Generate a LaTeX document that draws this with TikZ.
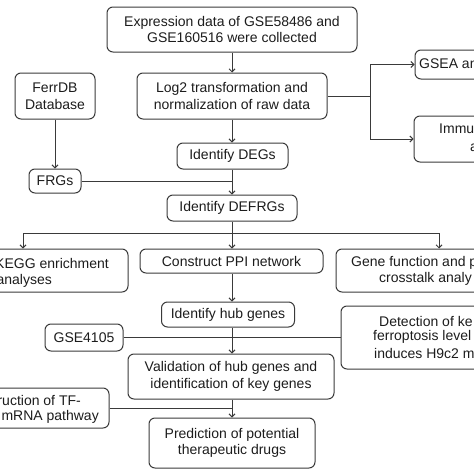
\documentclass[tikz,border=0pt]{standalone}
\usepackage{fontspec}
\setmainfont{Liberation Sans}
\usepackage{tikz}
\usetikzlibrary{arrows.meta,calc,positioning}
\definecolor{ln}{HTML}{3A3A3A}
\definecolor{tx}{HTML}{1C1C1C}
\begin{document}
\begin{tikzpicture}[x=1pt,y=-1pt,
  box/.style={draw=ln,line width=1pt,rounded corners=6pt,inner sep=0pt,align=center,text=tx},
  txt/.style={inner sep=0pt,text=tx,align=left},
  arr/.style={draw=ln,line width=1pt,-{Straight Barb[length=3pt,width=6pt]}},
  lin/.style={draw=ln,line width=1pt}]
\useasboundingbox (0,0) rectangle (474,474);
\clip (0,0) rectangle (474,474);
\fontsize{14}{16.5}\selectfont
% boxes
\node[box,minimum width=250,minimum height=45] (expr) at (232,29.5) {Expression data of GSE58486 and\\GSE160516 were collected};
\node[box,minimum width=190,minimum height=46] (logt) at (232,96) {Log2 transformation and\\normalization of raw data};
\node[box,minimum width=80,minimum height=46] (ferr) at (55,96) {FerrDB\\Database};
\node[box,minimum width=111,minimum height=26] (degs) at (232.5,156) {Identify DEGs};
\node[box,minimum width=52,minimum height=24] (frgs) at (55,181) {FRGs};
\node[box,minimum width=130,minimum height=26] (defrgs) at (232,208) {Identify DEFRGs};
\node[box,minimum width=150,minimum height=43] (kegg) at (53,270.5) {};
\node[box,minimum width=183,minimum height=24] (ppi) at (231.5,261) {Construct PPI network};
\node[box,minimum width=206,minimum height=43] (gene) at (439,270.5) {};
\node[box,minimum width=133,minimum height=25] (hub) at (228,314.5) {Identify hub genes};
\node[box,minimum width=78,minimum height=27] (gse) at (84,337.5) {GSE4105};
\node[box,minimum width=206,minimum height=63] (detect) at (444,337.5) {};
\node[box,minimum width=206,minimum height=45] (valid) at (231,376.5) {Validation of hub genes and\\identification of key genes};
\node[box,minimum width=150,minimum height=40] (tf) at (34,408) {};
\node[box,minimum width=166,minimum height=50] (pred) at (232,443) {Prediction of potential\\therapeutic drugs};
\node[box,minimum width=150,minimum height=29] (gsea) at (490,64.5) {};
\node[box,minimum width=150,minimum height=46] (immu) at (489,139) {};
% texts of the cut boxes
\node[txt,anchor=east] at (109,263) {KEGG enrichment};
\node[txt,anchor=east] at (52,281) {analyses};
\node[txt,anchor=west] at (351,263) {Gene function and p};
\node[txt,anchor=west] at (379,279) {crosstalk analy};
\node[txt,anchor=west] at (379,321) {Detection of ke};
\node[txt,anchor=west] at (373,337) {ferroptosis level};
\node[txt,anchor=west] at (374,353) {induces H9c2 m};
\node[txt,anchor=east] at (81,400) {ruction of TF-};
\node[txt,anchor=east] at (99,417) {mRNA pathway};
\node[txt,anchor=west] at (419,64) {GSEA an};
\node[txt,anchor=west] at (439,129) {Immu};
\node[txt,anchor=west] at (470,148) {a};
% connectors
\coordinate (split) at (370,96);
\coordinate (join) at (232,181);
\coordinate (branch) at (232,233);
\coordinate (mirjoin) at (232,408);
\draw[arr] (expr.south) -- (logt.north);
\draw[lin] (logt.east) -- (split);
\draw[arr] (split) |- (gsea.west);
\draw[arr] (split) |- (immu.west);
\draw[arr] (logt.south) -- (degs.north -| logt.south);
\draw[arr] (ferr.south) -- (frgs.north);
\draw[arr] (degs.south -| join) -- (defrgs.north -| join);
\draw[lin] (frgs.east) -- (join);
\draw[lin] (defrgs.south -| branch) -- (branch);
\draw[arr] (branch) -| ([xshift=-30pt]kegg.north);
\draw[arr] (branch) -- (ppi.north -| branch);
\draw[arr] (branch) -| (gene.north);
\draw[arr] (ppi.south -| branch) -- (hub.north -| branch);
\draw[arr] (hub.south -| branch) -- (valid.north -| branch);
\draw[lin] (gse.east) -- (detect.west);
\draw[arr] (valid.south -| mirjoin) -- (pred.north -| mirjoin);
\draw[lin] (tf.east |- mirjoin) -- (mirjoin);
\end{tikzpicture}
\end{document}
